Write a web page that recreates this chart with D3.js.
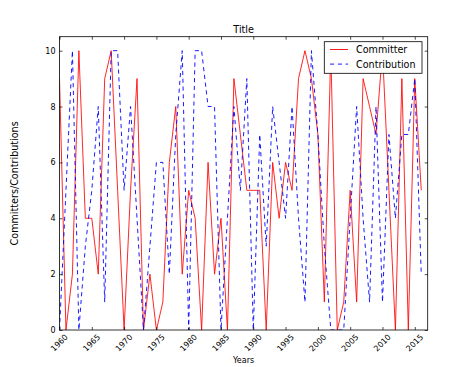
<!DOCTYPE html>
<html><head><meta charset="utf-8">
<script src="https://cdn.jsdelivr.net/npm/d3@7"></script>
<style>body{margin:0;background:#fff}svg{display:block}</style>
</head><body>
<script>
const years = [1960,1961,1962,1963,1964,1965,1966,1967,1968,1969,
  1970,1971,1972,1973,1974,1975,1976,1977,1978,1979,
  1980,1981,1982,1983,1984,1985,1986,1987,1988,1989,
  1990,1991,1992,1993,1994,1995,1996,1997,1998,1999,
  2000,2001,2002,2003,2004,2005,2006,2007,2008,2009,
  2010,2011,2012,2013,2014,2015,2016];
const committer = [9,0,2,10,4,4,2,9,10,5,
  0,5,9,0,2,0,1,6,8,2,
  5,4,0,6,2,4,0,9,7,5,
  5,5,0,6,4,6,5,9,10,9,
  7,1,10,0,1,5,1,9,8,7,
  10,5,0,9,0,9,5];
const contribution = [0,5,10,0,3,5,8,1,10,10,
  5,8,4,0,3,6,6,2,7,10,
  0,10,10,8,8,0,4,8,5,9,
  0,7,3,8,6,4,8,4,1,10,
  7,3,0,0,0,4,8,4,1,8,
  1,7,4,7,7,9,2];
const xTicks = [1960,1965,1970,1975,1980,1985,1990,1995,2000,2005,2010,2015];
const yTicks = [0,2,4,6,8,10];
const seriesNames = ["Committer","Contribution"];

const W = 474, H = 367;
const L = 59.5, R = 427.7, T = 36.7, B = 330;
const font = "DejaVu Sans, sans-serif";

const svg = d3.select("body").append("svg").attr("width", W).attr("height", H);
svg.append("rect").attr("width", W).attr("height", H).attr("fill", "#fff");

const x = d3.scaleLinear().domain([1960, 2017]).range([L, R]);
const y = d3.scaleLinear().domain([0, 10.5]).range([B, T]);

const plot = svg.append("g");
plot.append("clipPath").attr("id","clip").append("rect")
  .attr("x", L).attr("y", T).attr("width", R-L).attr("height", B-T);

const line = d3.line().x((d,i)=>x(years[i])).y(d=>y(d));
const lines = plot.append("g").attr("clip-path","url(#clip)");
lines.append("path").datum(committer).attr("d", line)
  .attr("fill","none").attr("stroke","#ff0000").attr("stroke-width",0.85)
  .attr("stroke-linejoin","round");
lines.append("path").datum(contribution).attr("d", line)
  .attr("fill","none").attr("stroke","#0000ff").attr("stroke-width",0.9)
  .attr("stroke-dasharray","4.2,3.6");

// axes with inward ticks
const tl = 3;
const xb = svg.append("g").attr("transform",`translate(0,${B})`)
  .call(d3.axisBottom(x).tickValues(xTicks).tickSize(-tl).tickFormat(""));
const xt = svg.append("g").attr("transform",`translate(0,${T})`)
  .call(d3.axisTop(x).tickValues(xTicks).tickSize(-tl).tickFormat(""));
const yl = svg.append("g").attr("transform",`translate(${L},0)`)
  .call(d3.axisLeft(y).tickValues(yTicks).tickSize(-tl).tickPadding(4).tickFormat(d3.format("d")));
const yr = svg.append("g").attr("transform",`translate(${R},0)`)
  .call(d3.axisRight(y).tickValues(yTicks).tickSize(-tl).tickFormat(""));
[xb,xt,yl,yr].forEach(g=>{
  g.select(".domain").remove();
  g.selectAll(".tick line").attr("stroke","#000").attr("stroke-width",0.7);
});
yl.selectAll(".tick text").attr("font-family",font).attr("font-size",8).attr("fill","#000");

// x tick labels rotated 45
svg.append("g").selectAll("text").data(xTicks).join("text")
  .attr("transform", d=>`translate(${x(d)},${343}) rotate(-45)`)
  .attr("text-anchor","middle").attr("dominant-baseline","central")
  .attr("font-family",font).attr("font-size",8).attr("fill","#000")
  .text(d=>d);

// frame
svg.append("rect").attr("x",L).attr("y",T).attr("width",R-L).attr("height",B-T)
  .attr("fill","none").attr("stroke","#000").attr("stroke-width",0.8);

// title and labels
svg.append("text").attr("x",(L+R)/2).attr("y",T-4).attr("text-anchor","middle")
  .attr("font-family",font).attr("font-size",9.6).text("Title");
svg.append("text").attr("x",(L+R)/2).attr("y",363).attr("text-anchor","middle")
  .attr("font-family",font).attr("font-size",8).text("Years");
svg.append("text").attr("transform",`translate(17.5,${(T+B)/2}) rotate(-90)`)
  .attr("text-anchor","middle")
  .attr("font-family",font).attr("font-size",9.6).text("Committers/Contributions");

// legend
const lg = svg.append("g");
lg.append("rect").attr("x",324.3).attr("y",41.7).attr("width",97.7).attr("height",31.6)
  .attr("fill","#fff").attr("stroke","#000").attr("stroke-width",0.8);
const styles = [{c:"#ff0000",dash:null},{c:"#0000ff",dash:"4.2,3.6"}];
seriesNames.forEach((n,i)=>{
  const cy = 49.5 + i*14.6;
  lg.append("line").attr("x1",330).attr("x2",348).attr("y1",cy).attr("y2",cy)
    .attr("stroke",styles[i].c).attr("stroke-width",0.9)
    .attr("stroke-dasharray",styles[i].dash);
  lg.append("text").attr("x",356).attr("y",cy).attr("dominant-baseline","central")
    .attr("font-family",font).attr("font-size",9.6).text(n);
});
</script>
</body></html>
